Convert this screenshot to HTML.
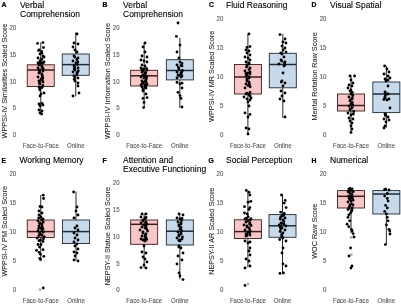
<!DOCTYPE html>
<html><head><meta charset="utf-8"><style>
html,body{margin:0;padding:0;background:#fff;overflow:hidden;}
svg{display:block;filter:blur(0.5px);}
text{font-family:"Liberation Sans",sans-serif;}
.let{font-size:6.8px;font-weight:bold;fill:#000;stroke:#000;stroke-width:0.2px;}
.tit{font-size:8.5px;fill:#000;stroke:#000;stroke-width:0.1px;}
.tick{font-size:6.9px;fill:#555;stroke:#555;stroke-width:0.1px;}
.ylab{font-size:7.25px;fill:#1a1a1a;stroke:#1a1a1a;stroke-width:0.05px;}
</style></head><body>
<svg width="401" height="304" viewBox="0 0 401 304">
<rect width="401" height="304" fill="#fff"/>
<g fill="#000">
<text x="1.5" y="6.90" class="let">A</text>
<text x="20" y="7.60" class="tit">Verbal</text>
<text x="20" y="16.50" class="tit">Comprehension</text>
<text transform="translate(16.15,137.00) scale(0.88,1)" class="tick" text-anchor="end">0</text>
<text transform="translate(16.15,110.25) scale(0.88,1)" class="tick" text-anchor="end">5</text>
<text transform="translate(16.15,83.50) scale(0.88,1)" class="tick" text-anchor="end">10</text>
<text transform="translate(16.15,56.75) scale(0.88,1)" class="tick" text-anchor="end">15</text>
<text transform="translate(16.15,30.00) scale(0.88,1)" class="tick" text-anchor="end">20</text>
<text transform="translate(6.75,81.05) rotate(-90)" class="ylab" text-anchor="middle">WPPSI-IV Similarities Scaled Score</text>
<text transform="translate(40.75,147.70) scale(0.88,1)" class="tick" text-anchor="middle">Face-to-Face</text>
<text transform="translate(75.75,147.70) scale(0.88,1)" class="tick" text-anchor="middle">Online</text>
<line x1="40.75" x2="40.75" y1="64.80" y2="42.50" stroke="#000" stroke-width="0.85"/>
<line x1="40.75" x2="40.75" y1="86.50" y2="113.50" stroke="#000" stroke-width="0.85"/>
<rect x="27.25" y="64.80" width="27.0" height="21.70" fill="#f8c6c6" stroke="#3a1e1e" stroke-width="0.9"/>
<line x1="27.25" x2="54.25" y1="70.00" y2="70.00" stroke="#3a1e1e" stroke-width="1.5"/>
<line x1="75.75" x2="75.75" y1="54.00" y2="32.50" stroke="#000" stroke-width="0.85"/>
<line x1="75.75" x2="75.75" y1="75.30" y2="96.50" stroke="#000" stroke-width="0.85"/>
<rect x="62.25" y="54.00" width="27.0" height="21.30" fill="#c7daec" stroke="#1f2a33" stroke-width="0.9"/>
<line x1="62.25" x2="89.25" y1="64.60" y2="64.60" stroke="#1f2a33" stroke-width="1.5"/>
<circle cx="43.00" cy="42.60" r="1.4"/>
<circle cx="37.60" cy="43.40" r="1.4"/>
<circle cx="43.50" cy="47.50" r="1.4"/>
<circle cx="39.00" cy="50.00" r="1.4"/>
<circle cx="38.60" cy="50.60" r="1.4"/>
<circle cx="41.60" cy="51.40" r="1.4"/>
<circle cx="42.00" cy="53.00" r="1.4"/>
<circle cx="40.00" cy="54.00" r="1.4"/>
<circle cx="43.00" cy="56.00" r="1.4"/>
<circle cx="44.00" cy="57.00" r="1.4"/>
<circle cx="38.00" cy="58.00" r="1.4"/>
<circle cx="42.00" cy="59.00" r="1.4"/>
<circle cx="41.00" cy="60.00" r="1.4"/>
<circle cx="40.00" cy="61.00" r="1.4"/>
<circle cx="44.00" cy="62.00" r="1.4"/>
<circle cx="38.00" cy="63.00" r="1.4"/>
<circle cx="43.00" cy="63.00" r="1.4"/>
<circle cx="39.00" cy="65.00" r="1.4"/>
<circle cx="42.00" cy="67.00" r="1.4"/>
<circle cx="38.00" cy="68.00" r="1.4"/>
<circle cx="40.00" cy="70.00" r="1.4"/>
<circle cx="43.00" cy="71.00" r="1.4"/>
<circle cx="39.00" cy="73.00" r="1.4"/>
<circle cx="42.00" cy="75.00" r="1.4"/>
<circle cx="38.00" cy="77.00" r="1.4"/>
<circle cx="41.00" cy="79.00" r="1.4"/>
<circle cx="39.00" cy="81.00" r="1.4"/>
<circle cx="43.00" cy="82.00" r="1.4"/>
<circle cx="40.00" cy="84.00" r="1.4"/>
<circle cx="39.00" cy="87.00" r="1.4"/>
<circle cx="42.00" cy="87.40" r="1.4"/>
<circle cx="40.00" cy="90.00" r="1.4"/>
<circle cx="44.00" cy="93.00" r="1.4"/>
<circle cx="41.00" cy="94.00" r="1.4"/>
<circle cx="40.00" cy="96.00" r="1.4"/>
<circle cx="42.00" cy="103.40" r="1.4"/>
<circle cx="39.00" cy="104.00" r="1.4"/>
<circle cx="43.00" cy="105.00" r="1.4"/>
<circle cx="40.00" cy="106.00" r="1.4"/>
<circle cx="39.00" cy="110.00" r="1.4"/>
<circle cx="42.00" cy="111.00" r="1.4"/>
<circle cx="40.00" cy="113.00" r="1.4"/>
<circle cx="41.60" cy="114.00" r="1.4"/>
<circle cx="39.70" cy="62.50" r="1.4"/>
<circle cx="41.80" cy="63.00" r="1.4"/>
<circle cx="39.70" cy="64.00" r="1.4"/>
<circle cx="41.80" cy="66.00" r="1.4"/>
<circle cx="42.30" cy="67.50" r="1.4"/>
<circle cx="43.30" cy="69.00" r="1.4"/>
<circle cx="39.20" cy="70.50" r="1.4"/>
<circle cx="39.70" cy="72.00" r="1.4"/>
<circle cx="41.80" cy="74.00" r="1.4"/>
<circle cx="42.30" cy="76.00" r="1.4"/>
<circle cx="42.80" cy="78.00" r="1.4"/>
<circle cx="42.30" cy="80.00" r="1.4"/>
<circle cx="39.70" cy="81.50" r="1.4"/>
<circle cx="39.20" cy="83.00" r="1.4"/>
<circle cx="42.80" cy="85.50" r="1.4"/>
<circle cx="41.80" cy="87.20" r="1.4"/>
<circle cx="39.70" cy="88.70" r="1.4"/>
<circle cx="77.00" cy="34.00" r="1.4"/>
<circle cx="74.00" cy="43.00" r="1.4"/>
<circle cx="78.00" cy="44.00" r="1.4"/>
<circle cx="73.00" cy="47.00" r="1.4"/>
<circle cx="75.00" cy="50.00" r="1.4"/>
<circle cx="77.00" cy="52.00" r="1.4"/>
<circle cx="74.00" cy="56.00" r="1.4"/>
<circle cx="78.00" cy="58.00" r="1.4"/>
<circle cx="73.00" cy="61.00" r="1.4"/>
<circle cx="76.00" cy="63.00" r="1.4"/>
<circle cx="74.00" cy="66.00" r="1.4"/>
<circle cx="78.00" cy="68.00" r="1.4"/>
<circle cx="75.00" cy="70.00" r="1.4"/>
<circle cx="73.00" cy="72.00" r="1.4"/>
<circle cx="77.00" cy="73.00" r="1.4"/>
<circle cx="74.00" cy="76.00" r="1.4"/>
<circle cx="78.00" cy="78.00" r="1.4"/>
<circle cx="75.00" cy="81.00" r="1.4"/>
<circle cx="78.00" cy="83.00" r="1.4"/>
<circle cx="78.00" cy="86.00" r="1.4"/>
<circle cx="79.00" cy="93.00" r="1.4"/>
<circle cx="73.00" cy="96.00" r="1.4"/>
<circle cx="74.70" cy="57.00" r="1.4"/>
<circle cx="76.80" cy="59.50" r="1.4"/>
<circle cx="77.80" cy="62.00" r="1.4"/>
<circle cx="77.30" cy="64.50" r="1.4"/>
<circle cx="74.70" cy="67.00" r="1.4"/>
<circle cx="74.20" cy="69.00" r="1.4"/>
<circle cx="78.30" cy="71.00" r="1.4"/>
<circle cx="77.30" cy="72.50" r="1.4"/>
<circle cx="76.80" cy="74.50" r="1.4"/>
<circle cx="74.70" cy="77.00" r="1.4"/>
<circle cx="74.20" cy="79.50" r="1.4"/>
<text x="102.5" y="6.90" class="let">B</text>
<text x="123" y="7.60" class="tit">Verbal</text>
<text x="123" y="16.50" class="tit">Comprehension</text>
<text transform="translate(119.55,137.00) scale(0.88,1)" class="tick" text-anchor="end">0</text>
<text transform="translate(119.55,110.25) scale(0.88,1)" class="tick" text-anchor="end">5</text>
<text transform="translate(119.55,83.50) scale(0.88,1)" class="tick" text-anchor="end">10</text>
<text transform="translate(119.55,56.75) scale(0.88,1)" class="tick" text-anchor="end">15</text>
<text transform="translate(119.55,30.00) scale(0.88,1)" class="tick" text-anchor="end">20</text>
<text transform="translate(110.15,81.05) rotate(-90)" class="ylab" text-anchor="middle">WPPSI-IV Information Scaled Score</text>
<text transform="translate(144.15,147.70) scale(0.88,1)" class="tick" text-anchor="middle">Face-to-Face</text>
<text transform="translate(179.85,147.70) scale(0.88,1)" class="tick" text-anchor="middle">Online</text>
<line x1="144.15" x2="144.15" y1="70.30" y2="43.00" stroke="#000" stroke-width="0.85"/>
<line x1="144.15" x2="144.15" y1="86.00" y2="108.00" stroke="#000" stroke-width="0.85"/>
<rect x="130.65" y="70.30" width="27.0" height="15.70" fill="#f8c6c6" stroke="#3a1e1e" stroke-width="0.9"/>
<line x1="130.65" x2="157.65" y1="75.80" y2="75.80" stroke="#3a1e1e" stroke-width="1.5"/>
<line x1="179.85" x2="179.85" y1="59.70" y2="38.00" stroke="#000" stroke-width="0.85"/>
<line x1="179.85" x2="179.85" y1="79.90" y2="108.00" stroke="#000" stroke-width="0.85"/>
<rect x="166.35" y="59.70" width="27.0" height="20.20" fill="#c7daec" stroke="#1f2a33" stroke-width="0.9"/>
<line x1="166.35" x2="193.35" y1="70.50" y2="70.50" stroke="#1f2a33" stroke-width="1.5"/>
<circle cx="145.00" cy="43.00" r="1.4"/>
<circle cx="143.00" cy="47.00" r="1.4"/>
<circle cx="145.00" cy="52.00" r="1.4"/>
<circle cx="142.00" cy="56.00" r="1.4"/>
<circle cx="147.00" cy="57.00" r="1.4"/>
<circle cx="141.00" cy="60.00" r="1.4"/>
<circle cx="144.00" cy="61.00" r="1.4"/>
<circle cx="147.00" cy="62.00" r="1.4"/>
<circle cx="142.00" cy="65.00" r="1.4"/>
<circle cx="145.00" cy="66.00" r="1.4"/>
<circle cx="141.00" cy="68.00" r="1.4"/>
<circle cx="144.00" cy="69.00" r="1.4"/>
<circle cx="147.00" cy="70.00" r="1.4"/>
<circle cx="142.00" cy="72.00" r="1.4"/>
<circle cx="145.00" cy="73.00" r="1.4"/>
<circle cx="143.00" cy="75.00" r="1.4"/>
<circle cx="146.00" cy="76.00" r="1.4"/>
<circle cx="141.00" cy="77.00" r="1.4"/>
<circle cx="144.00" cy="78.00" r="1.4"/>
<circle cx="142.00" cy="81.00" r="1.4"/>
<circle cx="146.00" cy="81.60" r="1.4"/>
<circle cx="143.00" cy="83.00" r="1.4"/>
<circle cx="147.00" cy="84.00" r="1.4"/>
<circle cx="141.00" cy="85.00" r="1.4"/>
<circle cx="145.00" cy="86.00" r="1.4"/>
<circle cx="142.00" cy="87.00" r="1.4"/>
<circle cx="146.00" cy="88.00" r="1.4"/>
<circle cx="143.00" cy="91.00" r="1.4"/>
<circle cx="146.00" cy="94.00" r="1.4"/>
<circle cx="147.00" cy="97.60" r="1.4"/>
<circle cx="143.00" cy="98.40" r="1.4"/>
<circle cx="144.00" cy="102.40" r="1.4"/>
<circle cx="143.60" cy="107.60" r="1.4"/>
<circle cx="146.60" cy="68.50" r="1.4"/>
<circle cx="142.00" cy="69.50" r="1.4"/>
<circle cx="143.00" cy="71.00" r="1.4"/>
<circle cx="145.60" cy="72.50" r="1.4"/>
<circle cx="145.10" cy="74.00" r="1.4"/>
<circle cx="143.00" cy="75.50" r="1.4"/>
<circle cx="145.60" cy="76.50" r="1.4"/>
<circle cx="146.60" cy="77.50" r="1.4"/>
<circle cx="146.10" cy="79.50" r="1.4"/>
<circle cx="145.10" cy="81.30" r="1.4"/>
<circle cx="143.00" cy="82.30" r="1.4"/>
<circle cx="142.50" cy="83.50" r="1.4"/>
<circle cx="145.10" cy="84.50" r="1.4"/>
<circle cx="146.10" cy="85.50" r="1.4"/>
<circle cx="145.60" cy="86.50" r="1.4"/>
<circle cx="145.10" cy="87.50" r="1.4"/>
<circle cx="143.00" cy="89.50" r="1.4"/>
<circle cx="178.00" cy="23.00" r="1.4"/>
<circle cx="176.40" cy="36.40" r="1.4"/>
<circle cx="180.00" cy="45.00" r="1.4"/>
<circle cx="177.00" cy="52.00" r="1.4"/>
<circle cx="179.00" cy="58.00" r="1.4"/>
<circle cx="180.00" cy="62.00" r="1.4"/>
<circle cx="177.00" cy="65.00" r="1.4"/>
<circle cx="182.00" cy="66.00" r="1.4"/>
<circle cx="179.00" cy="69.00" r="1.4"/>
<circle cx="177.00" cy="72.00" r="1.4"/>
<circle cx="181.00" cy="73.00" r="1.4"/>
<circle cx="178.00" cy="75.00" r="1.4"/>
<circle cx="182.00" cy="76.00" r="1.4"/>
<circle cx="177.00" cy="78.00" r="1.4"/>
<circle cx="177.00" cy="82.40" r="1.4"/>
<circle cx="180.00" cy="84.00" r="1.4"/>
<circle cx="182.00" cy="88.00" r="1.4"/>
<circle cx="178.00" cy="92.40" r="1.4"/>
<circle cx="180.00" cy="95.60" r="1.4"/>
<circle cx="181.00" cy="98.40" r="1.4"/>
<circle cx="182.00" cy="107.00" r="1.4"/>
<circle cx="182.00" cy="63.50" r="1.4"/>
<circle cx="181.00" cy="65.50" r="1.4"/>
<circle cx="178.40" cy="67.50" r="1.4"/>
<circle cx="182.50" cy="70.50" r="1.4"/>
<circle cx="181.50" cy="72.50" r="1.4"/>
<circle cx="181.00" cy="74.00" r="1.4"/>
<circle cx="178.90" cy="75.50" r="1.4"/>
<circle cx="181.00" cy="77.00" r="1.4"/>
<circle cx="182.00" cy="83.20" r="1.4"/>
<text x="209.0" y="6.90" class="let">C</text>
<text x="226" y="7.60" class="tit">Fluid Reasoning</text>
<text transform="translate(223.30,136.85) scale(0.88,1)" class="tick" text-anchor="end">0</text>
<text transform="translate(223.30,107.83) scale(0.88,1)" class="tick" text-anchor="end">5</text>
<text transform="translate(223.30,78.80) scale(0.88,1)" class="tick" text-anchor="end">10</text>
<text transform="translate(223.30,49.77) scale(0.88,1)" class="tick" text-anchor="end">15</text>
<text transform="translate(223.30,20.75) scale(0.88,1)" class="tick" text-anchor="end">20</text>
<text transform="translate(213.90,76.35) rotate(-90)" class="ylab" text-anchor="middle">WPPSI-IV MR Scaled Score</text>
<text transform="translate(247.90,147.70) scale(0.88,1)" class="tick" text-anchor="middle">Face-to-Face</text>
<text transform="translate(282.80,147.70) scale(0.88,1)" class="tick" text-anchor="middle">Online</text>
<line x1="247.90" x2="247.90" y1="64.50" y2="33.80" stroke="#000" stroke-width="0.85"/>
<line x1="247.90" x2="247.90" y1="94.00" y2="134.60" stroke="#000" stroke-width="0.85"/>
<rect x="234.40" y="64.50" width="27.0" height="29.50" fill="#f8c6c6" stroke="#3a1e1e" stroke-width="0.9"/>
<line x1="234.40" x2="261.40" y1="77.00" y2="77.00" stroke="#3a1e1e" stroke-width="1.5"/>
<line x1="282.80" x2="282.80" y1="53.30" y2="33.80" stroke="#000" stroke-width="0.85"/>
<line x1="282.80" x2="282.80" y1="87.80" y2="118.00" stroke="#000" stroke-width="0.85"/>
<rect x="269.30" y="53.30" width="27.0" height="34.50" fill="#c7daec" stroke="#1f2a33" stroke-width="0.9"/>
<line x1="269.30" x2="296.30" y1="64.50" y2="64.50" stroke="#1f2a33" stroke-width="1.5"/>
<circle cx="249.00" cy="34.00" r="1.4"/>
<circle cx="250.00" cy="46.60" r="1.4"/>
<circle cx="247.00" cy="47.40" r="1.4"/>
<circle cx="246.00" cy="50.00" r="1.4"/>
<circle cx="249.00" cy="51.00" r="1.4"/>
<circle cx="247.00" cy="53.00" r="1.4"/>
<circle cx="250.00" cy="55.00" r="1.4"/>
<circle cx="245.00" cy="57.00" r="1.4"/>
<circle cx="248.00" cy="58.00" r="1.4"/>
<circle cx="250.00" cy="60.00" r="1.4"/>
<circle cx="246.00" cy="62.00" r="1.4"/>
<circle cx="249.00" cy="64.00" r="1.4"/>
<circle cx="247.00" cy="66.00" r="1.4"/>
<circle cx="250.00" cy="68.00" r="1.4"/>
<circle cx="245.00" cy="71.00" r="1.4"/>
<circle cx="248.00" cy="73.00" r="1.4"/>
<circle cx="250.00" cy="74.00" r="1.4"/>
<circle cx="246.00" cy="76.00" r="1.4"/>
<circle cx="249.00" cy="78.00" r="1.4"/>
<circle cx="247.00" cy="80.00" r="1.4"/>
<circle cx="249.00" cy="82.00" r="1.4"/>
<circle cx="246.00" cy="84.00" r="1.4"/>
<circle cx="248.00" cy="85.60" r="1.4"/>
<circle cx="245.00" cy="88.00" r="1.4"/>
<circle cx="250.00" cy="92.40" r="1.4"/>
<circle cx="246.00" cy="94.00" r="1.4"/>
<circle cx="249.00" cy="95.00" r="1.4"/>
<circle cx="244.00" cy="97.00" r="1.4"/>
<circle cx="247.00" cy="99.00" r="1.4"/>
<circle cx="250.00" cy="100.00" r="1.4"/>
<circle cx="248.00" cy="102.00" r="1.4"/>
<circle cx="249.00" cy="106.00" r="1.4"/>
<circle cx="245.00" cy="113.00" r="1.4"/>
<circle cx="250.00" cy="114.40" r="1.4"/>
<circle cx="248.00" cy="117.00" r="1.4"/>
<circle cx="246.00" cy="128.00" r="1.4"/>
<circle cx="249.00" cy="129.00" r="1.4"/>
<circle cx="248.00" cy="134.00" r="1.4"/>
<circle cx="249.10" cy="63.00" r="1.4"/>
<circle cx="247.00" cy="65.00" r="1.4"/>
<circle cx="246.50" cy="67.00" r="1.4"/>
<circle cx="249.10" cy="69.50" r="1.4"/>
<circle cx="250.10" cy="72.00" r="1.4"/>
<circle cx="246.00" cy="73.50" r="1.4"/>
<circle cx="247.00" cy="75.00" r="1.4"/>
<circle cx="249.10" cy="77.00" r="1.4"/>
<circle cx="247.00" cy="79.00" r="1.4"/>
<circle cx="247.00" cy="81.00" r="1.4"/>
<circle cx="249.10" cy="83.00" r="1.4"/>
<circle cx="249.60" cy="84.80" r="1.4"/>
<circle cx="250.10" cy="86.80" r="1.4"/>
<circle cx="247.00" cy="93.20" r="1.4"/>
<circle cx="249.10" cy="94.50" r="1.4"/>
<circle cx="250.10" cy="96.00" r="1.4"/>
<circle cx="251.10" cy="98.00" r="1.4"/>
<circle cx="280.00" cy="34.60" r="1.4"/>
<circle cx="285.00" cy="39.00" r="1.4"/>
<circle cx="283.00" cy="42.00" r="1.4"/>
<circle cx="286.00" cy="43.00" r="1.4"/>
<circle cx="282.00" cy="46.00" r="1.4"/>
<circle cx="285.00" cy="48.00" r="1.4"/>
<circle cx="283.00" cy="50.00" r="1.4"/>
<circle cx="286.00" cy="52.00" r="1.4"/>
<circle cx="282.00" cy="54.00" r="1.4"/>
<circle cx="284.00" cy="57.00" r="1.4"/>
<circle cx="281.00" cy="60.00" r="1.4"/>
<circle cx="285.00" cy="62.00" r="1.4"/>
<circle cx="279.00" cy="64.00" r="1.4"/>
<circle cx="284.00" cy="66.00" r="1.4"/>
<circle cx="283.00" cy="73.00" r="1.4"/>
<circle cx="282.00" cy="81.00" r="1.4"/>
<circle cx="285.00" cy="83.00" r="1.4"/>
<circle cx="283.00" cy="86.00" r="1.4"/>
<circle cx="281.00" cy="91.00" r="1.4"/>
<circle cx="285.00" cy="93.00" r="1.4"/>
<circle cx="282.00" cy="96.00" r="1.4"/>
<circle cx="280.00" cy="99.00" r="1.4"/>
<circle cx="284.00" cy="101.00" r="1.4"/>
<circle cx="285.00" cy="117.00" r="1.4"/>
<circle cx="280.80" cy="53.00" r="1.4"/>
<circle cx="281.80" cy="61.00" r="1.4"/>
<circle cx="284.40" cy="63.00" r="1.4"/>
<circle cx="284.90" cy="65.00" r="1.4"/>
<circle cx="281.30" cy="82.00" r="1.4"/>
<text x="311.5" y="6.90" class="let">D</text>
<text x="330" y="7.60" class="tit">Visual Spatial</text>
<text transform="translate(326.40,136.85) scale(0.88,1)" class="tick" text-anchor="end">0</text>
<text transform="translate(326.40,107.83) scale(0.88,1)" class="tick" text-anchor="end">5</text>
<text transform="translate(326.40,78.80) scale(0.88,1)" class="tick" text-anchor="end">10</text>
<text transform="translate(326.40,49.77) scale(0.88,1)" class="tick" text-anchor="end">15</text>
<text transform="translate(326.40,20.75) scale(0.88,1)" class="tick" text-anchor="end">20</text>
<text transform="translate(317.00,76.35) rotate(-90)" class="ylab" text-anchor="middle">Mental Rotation Raw Score</text>
<text transform="translate(351.00,147.70) scale(0.88,1)" class="tick" text-anchor="middle">Face-to-Face</text>
<text transform="translate(386.35,147.70) scale(0.88,1)" class="tick" text-anchor="middle">Online</text>
<line x1="351.00" x2="351.00" y1="94.00" y2="75.60" stroke="#000" stroke-width="0.85"/>
<line x1="351.00" x2="351.00" y1="111.00" y2="132.60" stroke="#000" stroke-width="0.85"/>
<rect x="337.50" y="94.00" width="27.0" height="17.00" fill="#f8c6c6" stroke="#3a1e1e" stroke-width="0.9"/>
<line x1="337.50" x2="364.50" y1="105.50" y2="105.50" stroke="#3a1e1e" stroke-width="1.5"/>
<line x1="386.35" x2="386.35" y1="82.00" y2="66.00" stroke="#000" stroke-width="0.85"/>
<line x1="386.35" x2="386.35" y1="112.60" y2="127.60" stroke="#000" stroke-width="0.85"/>
<rect x="372.85" y="82.00" width="27.0" height="30.60" fill="#c7daec" stroke="#1f2a33" stroke-width="0.9"/>
<line x1="372.85" x2="399.85" y1="94.00" y2="94.00" stroke="#1f2a33" stroke-width="1.5"/>
<circle cx="350.00" cy="76.00" r="1.4"/>
<circle cx="354.60" cy="76.00" r="1.4"/>
<circle cx="351.00" cy="80.00" r="1.4"/>
<circle cx="353.00" cy="83.00" r="1.4"/>
<circle cx="349.00" cy="85.00" r="1.4"/>
<circle cx="352.00" cy="86.00" r="1.4"/>
<circle cx="348.00" cy="88.00" r="1.4"/>
<circle cx="351.00" cy="90.00" r="1.4"/>
<circle cx="350.00" cy="91.00" r="1.4"/>
<circle cx="351.00" cy="94.00" r="1.4"/>
<circle cx="349.00" cy="97.00" r="1.4"/>
<circle cx="352.00" cy="99.00" r="1.4"/>
<circle cx="350.00" cy="101.00" r="1.4"/>
<circle cx="351.00" cy="104.00" r="1.4"/>
<circle cx="349.00" cy="106.00" r="1.4"/>
<circle cx="352.00" cy="108.00" r="1.4"/>
<circle cx="350.00" cy="110.00" r="1.4"/>
<circle cx="348.00" cy="113.00" r="1.4"/>
<circle cx="351.00" cy="115.00" r="1.4"/>
<circle cx="349.00" cy="118.00" r="1.4"/>
<circle cx="353.00" cy="119.00" r="1.4"/>
<circle cx="350.00" cy="121.00" r="1.4"/>
<circle cx="352.00" cy="123.00" r="1.4"/>
<circle cx="351.00" cy="126.00" r="1.4"/>
<circle cx="352.00" cy="129.00" r="1.4"/>
<circle cx="351.00" cy="132.40" r="1.4"/>
<circle cx="352.30" cy="92.50" r="1.4"/>
<circle cx="352.80" cy="95.50" r="1.4"/>
<circle cx="352.30" cy="98.00" r="1.4"/>
<circle cx="350.20" cy="100.00" r="1.4"/>
<circle cx="352.30" cy="102.50" r="1.4"/>
<circle cx="352.80" cy="105.00" r="1.4"/>
<circle cx="352.30" cy="107.00" r="1.4"/>
<circle cx="350.20" cy="109.00" r="1.4"/>
<circle cx="353.80" cy="111.50" r="1.4"/>
<circle cx="353.30" cy="114.00" r="1.4"/>
<circle cx="384.60" cy="66.00" r="1.4"/>
<circle cx="387.00" cy="69.00" r="1.4"/>
<circle cx="389.00" cy="72.00" r="1.4"/>
<circle cx="384.00" cy="74.00" r="1.4"/>
<circle cx="388.00" cy="76.00" r="1.4"/>
<circle cx="390.00" cy="78.00" r="1.4"/>
<circle cx="385.00" cy="79.00" r="1.4"/>
<circle cx="386.00" cy="81.00" r="1.4"/>
<circle cx="388.00" cy="86.00" r="1.4"/>
<circle cx="385.00" cy="92.00" r="1.4"/>
<circle cx="388.00" cy="94.00" r="1.4"/>
<circle cx="385.00" cy="97.00" r="1.4"/>
<circle cx="389.00" cy="99.00" r="1.4"/>
<circle cx="387.00" cy="100.00" r="1.4"/>
<circle cx="390.00" cy="108.00" r="1.4"/>
<circle cx="385.00" cy="114.00" r="1.4"/>
<circle cx="388.00" cy="117.00" r="1.4"/>
<circle cx="384.00" cy="119.00" r="1.4"/>
<circle cx="389.00" cy="120.00" r="1.4"/>
<circle cx="386.00" cy="122.00" r="1.4"/>
<circle cx="385.00" cy="126.00" r="1.4"/>
<circle cx="384.00" cy="128.00" r="1.4"/>
<circle cx="388.00" cy="80.00" r="1.4"/>
<circle cx="385.40" cy="93.00" r="1.4"/>
<circle cx="385.40" cy="95.50" r="1.4"/>
<circle cx="384.90" cy="98.00" r="1.4"/>
<circle cx="383.90" cy="99.50" r="1.4"/>
<circle cx="385.40" cy="115.50" r="1.4"/>
<text x="1.5" y="162.70" class="let">E</text>
<text x="19.5" y="162.60" class="tit">Working Memory</text>
<text transform="translate(16.15,291.75) scale(0.88,1)" class="tick" text-anchor="end">0</text>
<text transform="translate(16.15,262.73) scale(0.88,1)" class="tick" text-anchor="end">5</text>
<text transform="translate(16.15,233.70) scale(0.88,1)" class="tick" text-anchor="end">10</text>
<text transform="translate(16.15,204.67) scale(0.88,1)" class="tick" text-anchor="end">15</text>
<text transform="translate(16.15,175.65) scale(0.88,1)" class="tick" text-anchor="end">20</text>
<text transform="translate(6.75,231.25) rotate(-90)" class="ylab" text-anchor="middle">WPPSI-IV PM Scaled Score</text>
<text transform="translate(40.75,302.60) scale(0.88,1)" class="tick" text-anchor="middle">Face-to-Face</text>
<text transform="translate(76.00,302.60) scale(0.88,1)" class="tick" text-anchor="middle">Online</text>
<line x1="40.75" x2="40.75" y1="220.00" y2="195.00" stroke="#000" stroke-width="0.85"/>
<line x1="40.75" x2="40.75" y1="237.50" y2="259.30" stroke="#000" stroke-width="0.85"/>
<rect x="27.25" y="220.00" width="27.0" height="17.50" fill="#f8c6c6" stroke="#3a1e1e" stroke-width="0.9"/>
<line x1="27.25" x2="54.25" y1="231.60" y2="231.60" stroke="#3a1e1e" stroke-width="1.5"/>
<line x1="76.00" x2="76.00" y1="220.00" y2="191.50" stroke="#000" stroke-width="0.85"/>
<line x1="76.00" x2="76.00" y1="243.50" y2="260.50" stroke="#000" stroke-width="0.85"/>
<rect x="62.50" y="220.00" width="27.0" height="23.50" fill="#c7daec" stroke="#1f2a33" stroke-width="0.9"/>
<line x1="62.50" x2="89.50" y1="231.60" y2="231.60" stroke="#1f2a33" stroke-width="1.5"/>
<circle cx="40.00" cy="289.60" r="1.4" fill="#b0b0b0"/>
<circle cx="43.20" cy="195.20" r="1.4"/>
<circle cx="43.60" cy="198.50" r="1.4"/>
<circle cx="40.00" cy="206.50" r="1.4"/>
<circle cx="42.00" cy="207.00" r="1.4"/>
<circle cx="39.00" cy="211.00" r="1.4"/>
<circle cx="42.00" cy="213.00" r="1.4"/>
<circle cx="39.00" cy="215.00" r="1.4"/>
<circle cx="41.00" cy="217.00" r="1.4"/>
<circle cx="43.00" cy="219.00" r="1.4"/>
<circle cx="38.00" cy="221.00" r="1.4"/>
<circle cx="40.00" cy="223.00" r="1.4"/>
<circle cx="42.00" cy="224.00" r="1.4"/>
<circle cx="39.00" cy="226.00" r="1.4"/>
<circle cx="41.00" cy="228.00" r="1.4"/>
<circle cx="43.00" cy="229.00" r="1.4"/>
<circle cx="38.00" cy="231.00" r="1.4"/>
<circle cx="40.00" cy="233.00" r="1.4"/>
<circle cx="42.00" cy="235.00" r="1.4"/>
<circle cx="39.00" cy="235.50" r="1.4"/>
<circle cx="37.20" cy="238.00" r="1.4"/>
<circle cx="40.50" cy="240.00" r="1.4"/>
<circle cx="43.00" cy="241.50" r="1.4"/>
<circle cx="38.00" cy="244.50" r="1.4"/>
<circle cx="41.00" cy="244.50" r="1.4"/>
<circle cx="39.50" cy="247.00" r="1.4"/>
<circle cx="43.10" cy="249.70" r="1.4"/>
<circle cx="36.60" cy="250.40" r="1.4"/>
<circle cx="39.20" cy="252.40" r="1.4"/>
<circle cx="40.50" cy="254.30" r="1.4"/>
<circle cx="43.80" cy="256.30" r="1.4"/>
<circle cx="39.80" cy="258.30" r="1.4"/>
<circle cx="40.50" cy="259.60" r="1.4"/>
<circle cx="43.30" cy="288.00" r="1.4"/>
<circle cx="38.70" cy="218.00" r="1.4"/>
<circle cx="41.80" cy="220.00" r="1.4"/>
<circle cx="43.30" cy="222.00" r="1.4"/>
<circle cx="39.70" cy="223.50" r="1.4"/>
<circle cx="41.80" cy="225.00" r="1.4"/>
<circle cx="42.30" cy="227.00" r="1.4"/>
<circle cx="38.70" cy="228.50" r="1.4"/>
<circle cx="41.80" cy="230.00" r="1.4"/>
<circle cx="43.30" cy="232.00" r="1.4"/>
<circle cx="39.70" cy="234.00" r="1.4"/>
<circle cx="41.80" cy="235.25" r="1.4"/>
<circle cx="44.20" cy="236.75" r="1.4"/>
<circle cx="43.45" cy="239.00" r="1.4"/>
<circle cx="38.95" cy="240.75" r="1.4"/>
<circle cx="73.60" cy="192.00" r="1.4"/>
<circle cx="77.00" cy="207.00" r="1.4"/>
<circle cx="76.00" cy="211.00" r="1.4"/>
<circle cx="78.00" cy="215.00" r="1.4"/>
<circle cx="74.00" cy="218.00" r="1.4"/>
<circle cx="77.00" cy="226.00" r="1.4"/>
<circle cx="75.00" cy="228.00" r="1.4"/>
<circle cx="78.00" cy="230.00" r="1.4"/>
<circle cx="74.00" cy="233.00" r="1.4"/>
<circle cx="77.00" cy="235.00" r="1.4"/>
<circle cx="75.00" cy="238.00" r="1.4"/>
<circle cx="78.00" cy="240.00" r="1.4"/>
<circle cx="74.00" cy="242.00" r="1.4"/>
<circle cx="77.00" cy="244.00" r="1.4"/>
<circle cx="75.00" cy="246.00" r="1.4"/>
<circle cx="78.00" cy="249.00" r="1.4"/>
<circle cx="74.00" cy="252.00" r="1.4"/>
<circle cx="77.00" cy="253.00" r="1.4"/>
<circle cx="75.00" cy="256.00" r="1.4"/>
<circle cx="74.00" cy="260.00" r="1.4"/>
<circle cx="78.00" cy="261.00" r="1.4"/>
<text x="102.5" y="162.70" class="let">F</text>
<text x="123" y="162.60" class="tit">Attention and</text>
<text x="123" y="171.50" class="tit">Executive Functioning</text>
<text transform="translate(119.55,292.45) scale(0.88,1)" class="tick" text-anchor="end">0</text>
<text transform="translate(119.55,265.55) scale(0.88,1)" class="tick" text-anchor="end">5</text>
<text transform="translate(119.55,238.65) scale(0.88,1)" class="tick" text-anchor="end">10</text>
<text transform="translate(119.55,211.75) scale(0.88,1)" class="tick" text-anchor="end">15</text>
<text transform="translate(119.55,184.85) scale(0.88,1)" class="tick" text-anchor="end">20</text>
<text transform="translate(110.15,236.20) rotate(-90)" class="ylab" text-anchor="middle">NEPSY-II Statue Scaled Score</text>
<text transform="translate(144.15,302.60) scale(0.88,1)" class="tick" text-anchor="middle">Face-to-Face</text>
<text transform="translate(179.85,302.60) scale(0.88,1)" class="tick" text-anchor="middle">Online</text>
<line x1="144.15" x2="144.15" y1="220.00" y2="213.00" stroke="#000" stroke-width="0.85"/>
<line x1="144.15" x2="144.15" y1="244.30" y2="268.00" stroke="#000" stroke-width="0.85"/>
<rect x="130.65" y="220.00" width="27.0" height="24.30" fill="#f8c6c6" stroke="#3a1e1e" stroke-width="0.9"/>
<line x1="130.65" x2="157.65" y1="224.30" y2="224.30" stroke="#3a1e1e" stroke-width="1.5"/>
<line x1="179.85" x2="179.85" y1="220.00" y2="213.00" stroke="#000" stroke-width="0.85"/>
<line x1="179.85" x2="179.85" y1="245.00" y2="279.30" stroke="#000" stroke-width="0.85"/>
<rect x="166.35" y="220.00" width="27.0" height="25.00" fill="#c7daec" stroke="#1f2a33" stroke-width="0.9"/>
<line x1="166.35" x2="193.35" y1="231.20" y2="231.20" stroke="#1f2a33" stroke-width="1.5"/>
<circle cx="142.00" cy="214.00" r="1.4"/>
<circle cx="146.00" cy="214.00" r="1.4"/>
<circle cx="141.00" cy="217.00" r="1.4"/>
<circle cx="145.00" cy="218.00" r="1.4"/>
<circle cx="143.00" cy="220.00" r="1.4"/>
<circle cx="146.00" cy="222.00" r="1.4"/>
<circle cx="141.00" cy="223.00" r="1.4"/>
<circle cx="144.00" cy="225.00" r="1.4"/>
<circle cx="142.00" cy="227.00" r="1.4"/>
<circle cx="145.00" cy="228.00" r="1.4"/>
<circle cx="140.00" cy="230.00" r="1.4"/>
<circle cx="143.00" cy="232.00" r="1.4"/>
<circle cx="146.00" cy="234.00" r="1.4"/>
<circle cx="142.00" cy="236.00" r="1.4"/>
<circle cx="145.00" cy="237.00" r="1.4"/>
<circle cx="141.00" cy="239.00" r="1.4"/>
<circle cx="144.00" cy="240.00" r="1.4"/>
<circle cx="143.00" cy="240.00" r="1.4"/>
<circle cx="145.00" cy="241.00" r="1.4"/>
<circle cx="144.00" cy="246.00" r="1.4"/>
<circle cx="142.00" cy="252.00" r="1.4"/>
<circle cx="146.00" cy="253.00" r="1.4"/>
<circle cx="143.00" cy="257.00" r="1.4"/>
<circle cx="145.00" cy="259.00" r="1.4"/>
<circle cx="147.00" cy="262.00" r="1.4"/>
<circle cx="144.00" cy="265.00" r="1.4"/>
<circle cx="141.00" cy="267.60" r="1.4"/>
<circle cx="146.00" cy="268.00" r="1.4"/>
<circle cx="146.10" cy="217.50" r="1.4"/>
<circle cx="145.10" cy="219.00" r="1.4"/>
<circle cx="143.00" cy="221.00" r="1.4"/>
<circle cx="145.60" cy="222.50" r="1.4"/>
<circle cx="146.60" cy="224.00" r="1.4"/>
<circle cx="146.10" cy="226.00" r="1.4"/>
<circle cx="145.60" cy="227.50" r="1.4"/>
<circle cx="146.60" cy="229.00" r="1.4"/>
<circle cx="147.60" cy="231.00" r="1.4"/>
<circle cx="143.00" cy="233.00" r="1.4"/>
<circle cx="145.10" cy="235.00" r="1.4"/>
<circle cx="145.60" cy="236.50" r="1.4"/>
<circle cx="146.10" cy="238.00" r="1.4"/>
<circle cx="146.60" cy="239.50" r="1.4"/>
<circle cx="145.60" cy="240.00" r="1.4"/>
<circle cx="145.10" cy="240.50" r="1.4"/>
<circle cx="179.00" cy="214.00" r="1.4"/>
<circle cx="183.00" cy="215.00" r="1.4"/>
<circle cx="177.00" cy="218.00" r="1.4"/>
<circle cx="180.00" cy="219.00" r="1.4"/>
<circle cx="178.00" cy="222.00" r="1.4"/>
<circle cx="181.00" cy="224.00" r="1.4"/>
<circle cx="179.00" cy="226.00" r="1.4"/>
<circle cx="180.00" cy="229.00" r="1.4"/>
<circle cx="178.00" cy="232.00" r="1.4"/>
<circle cx="181.00" cy="234.00" r="1.4"/>
<circle cx="179.00" cy="236.00" r="1.4"/>
<circle cx="177.00" cy="238.00" r="1.4"/>
<circle cx="180.00" cy="240.00" r="1.4"/>
<circle cx="180.00" cy="241.00" r="1.4"/>
<circle cx="179.00" cy="246.00" r="1.4"/>
<circle cx="181.00" cy="248.00" r="1.4"/>
<circle cx="183.00" cy="253.00" r="1.4"/>
<circle cx="178.00" cy="256.00" r="1.4"/>
<circle cx="182.00" cy="260.00" r="1.4"/>
<circle cx="177.00" cy="264.00" r="1.4"/>
<circle cx="179.00" cy="273.00" r="1.4"/>
<circle cx="180.00" cy="276.00" r="1.4"/>
<circle cx="183.00" cy="279.60" r="1.4"/>
<circle cx="182.00" cy="218.50" r="1.4"/>
<circle cx="181.50" cy="220.50" r="1.4"/>
<circle cx="181.00" cy="223.00" r="1.4"/>
<circle cx="178.90" cy="225.00" r="1.4"/>
<circle cx="181.00" cy="227.50" r="1.4"/>
<circle cx="181.50" cy="230.50" r="1.4"/>
<circle cx="181.00" cy="233.00" r="1.4"/>
<circle cx="178.90" cy="235.00" r="1.4"/>
<circle cx="182.50" cy="237.00" r="1.4"/>
<circle cx="182.00" cy="239.00" r="1.4"/>
<circle cx="178.90" cy="240.50" r="1.4"/>
<circle cx="178.90" cy="247.00" r="1.4"/>
<text x="208.5" y="162.70" class="let">G</text>
<text x="226" y="162.60" class="tit">Social Perception</text>
<text transform="translate(223.30,291.75) scale(0.88,1)" class="tick" text-anchor="end">0</text>
<text transform="translate(223.30,262.73) scale(0.88,1)" class="tick" text-anchor="end">5</text>
<text transform="translate(223.30,233.70) scale(0.88,1)" class="tick" text-anchor="end">10</text>
<text transform="translate(223.30,204.67) scale(0.88,1)" class="tick" text-anchor="end">15</text>
<text transform="translate(223.30,175.65) scale(0.88,1)" class="tick" text-anchor="end">20</text>
<text transform="translate(213.90,231.25) rotate(-90)" class="ylab" text-anchor="middle">NEPSY-II AR Scaled Score</text>
<text transform="translate(247.90,302.60) scale(0.88,1)" class="tick" text-anchor="middle">Face-to-Face</text>
<text transform="translate(282.50,302.60) scale(0.88,1)" class="tick" text-anchor="middle">Online</text>
<line x1="247.90" x2="247.90" y1="219.80" y2="190.80" stroke="#000" stroke-width="0.85"/>
<line x1="247.90" x2="247.90" y1="238.50" y2="267.50" stroke="#000" stroke-width="0.85"/>
<rect x="234.40" y="219.80" width="27.0" height="18.70" fill="#f8c6c6" stroke="#3a1e1e" stroke-width="0.9"/>
<line x1="234.40" x2="261.40" y1="231.60" y2="231.60" stroke="#3a1e1e" stroke-width="1.5"/>
<line x1="282.50" x2="282.50" y1="214.60" y2="195.00" stroke="#000" stroke-width="0.85"/>
<line x1="282.50" x2="282.50" y1="237.30" y2="273.50" stroke="#000" stroke-width="0.85"/>
<rect x="269.00" y="214.60" width="27.0" height="22.70" fill="#c7daec" stroke="#1f2a33" stroke-width="0.9"/>
<line x1="269.00" x2="296.00" y1="225.80" y2="225.80" stroke="#1f2a33" stroke-width="1.5"/>
<circle cx="248.00" cy="284.00" r="1.4" fill="#b0b0b0"/>
<circle cx="246.30" cy="190.40" r="1.4"/>
<circle cx="249.00" cy="192.20" r="1.4"/>
<circle cx="249.90" cy="195.00" r="1.4"/>
<circle cx="250.80" cy="201.30" r="1.4"/>
<circle cx="248.10" cy="202.20" r="1.4"/>
<circle cx="244.50" cy="206.70" r="1.4"/>
<circle cx="249.90" cy="207.60" r="1.4"/>
<circle cx="249.00" cy="209.40" r="1.4"/>
<circle cx="244.50" cy="213.00" r="1.4"/>
<circle cx="247.20" cy="213.90" r="1.4"/>
<circle cx="248.10" cy="216.60" r="1.4"/>
<circle cx="246.30" cy="218.50" r="1.4"/>
<circle cx="245.00" cy="219.00" r="1.4"/>
<circle cx="248.00" cy="221.00" r="1.4"/>
<circle cx="250.00" cy="223.00" r="1.4"/>
<circle cx="244.00" cy="225.00" r="1.4"/>
<circle cx="247.00" cy="226.00" r="1.4"/>
<circle cx="249.00" cy="228.00" r="1.4"/>
<circle cx="245.00" cy="230.00" r="1.4"/>
<circle cx="248.00" cy="232.00" r="1.4"/>
<circle cx="246.00" cy="234.00" r="1.4"/>
<circle cx="250.00" cy="235.00" r="1.4"/>
<circle cx="246.00" cy="236.00" r="1.4"/>
<circle cx="245.00" cy="241.00" r="1.4"/>
<circle cx="248.00" cy="243.00" r="1.4"/>
<circle cx="250.00" cy="248.00" r="1.4"/>
<circle cx="249.00" cy="251.00" r="1.4"/>
<circle cx="250.00" cy="255.00" r="1.4"/>
<circle cx="246.00" cy="259.00" r="1.4"/>
<circle cx="249.00" cy="261.00" r="1.4"/>
<circle cx="250.00" cy="266.00" r="1.4"/>
<circle cx="245.00" cy="268.00" r="1.4"/>
<circle cx="245.00" cy="285.40" r="1.4"/>
<circle cx="250.95" cy="218.75" r="1.4"/>
<circle cx="250.10" cy="220.00" r="1.4"/>
<circle cx="246.00" cy="222.00" r="1.4"/>
<circle cx="249.60" cy="224.00" r="1.4"/>
<circle cx="251.10" cy="225.50" r="1.4"/>
<circle cx="247.00" cy="227.00" r="1.4"/>
<circle cx="249.60" cy="229.00" r="1.4"/>
<circle cx="250.10" cy="231.00" r="1.4"/>
<circle cx="249.60" cy="233.00" r="1.4"/>
<circle cx="247.00" cy="234.50" r="1.4"/>
<circle cx="247.00" cy="235.50" r="1.4"/>
<circle cx="250.10" cy="242.00" r="1.4"/>
<circle cx="281.50" cy="195.00" r="1.4"/>
<circle cx="285.20" cy="200.40" r="1.4"/>
<circle cx="284.20" cy="203.10" r="1.4"/>
<circle cx="286.10" cy="207.60" r="1.4"/>
<circle cx="280.60" cy="212.10" r="1.4"/>
<circle cx="282.40" cy="214.80" r="1.4"/>
<circle cx="282.00" cy="216.00" r="1.4"/>
<circle cx="285.00" cy="218.00" r="1.4"/>
<circle cx="283.00" cy="220.00" r="1.4"/>
<circle cx="281.00" cy="223.00" r="1.4"/>
<circle cx="284.00" cy="224.00" r="1.4"/>
<circle cx="286.00" cy="226.00" r="1.4"/>
<circle cx="282.00" cy="228.00" r="1.4"/>
<circle cx="285.00" cy="230.00" r="1.4"/>
<circle cx="283.00" cy="233.00" r="1.4"/>
<circle cx="282.00" cy="236.00" r="1.4"/>
<circle cx="283.00" cy="238.00" r="1.4"/>
<circle cx="286.00" cy="241.00" r="1.4"/>
<circle cx="283.00" cy="248.00" r="1.4"/>
<circle cx="282.00" cy="253.00" r="1.4"/>
<circle cx="283.00" cy="264.00" r="1.4"/>
<circle cx="286.00" cy="266.00" r="1.4"/>
<circle cx="283.40" cy="273.00" r="1.4"/>
<circle cx="280.00" cy="273.40" r="1.4"/>
<circle cx="284.30" cy="213.45" r="1.4"/>
<circle cx="283.60" cy="215.40" r="1.4"/>
<circle cx="280.70" cy="217.00" r="1.4"/>
<circle cx="280.20" cy="219.00" r="1.4"/>
<circle cx="283.80" cy="221.50" r="1.4"/>
<circle cx="281.70" cy="223.50" r="1.4"/>
<circle cx="279.20" cy="225.00" r="1.4"/>
<circle cx="280.20" cy="227.00" r="1.4"/>
<circle cx="280.70" cy="229.00" r="1.4"/>
<circle cx="280.20" cy="231.50" r="1.4"/>
<circle cx="281.70" cy="234.50" r="1.4"/>
<circle cx="281.70" cy="237.00" r="1.4"/>
<circle cx="279.70" cy="239.50" r="1.4"/>
<text x="311.5" y="162.70" class="let">H</text>
<text x="330" y="162.60" class="tit">Numerical</text>
<text transform="translate(326.40,291.75) scale(0.88,1)" class="tick" text-anchor="end">0</text>
<text transform="translate(326.40,262.73) scale(0.88,1)" class="tick" text-anchor="end">5</text>
<text transform="translate(326.40,233.70) scale(0.88,1)" class="tick" text-anchor="end">10</text>
<text transform="translate(326.40,204.67) scale(0.88,1)" class="tick" text-anchor="end">15</text>
<text transform="translate(326.40,175.65) scale(0.88,1)" class="tick" text-anchor="end">20</text>
<text transform="translate(317.00,231.25) rotate(-90)" class="ylab" text-anchor="middle">WOC Raw Score</text>
<text transform="translate(351.00,302.60) scale(0.88,1)" class="tick" text-anchor="middle">Face-to-Face</text>
<text transform="translate(386.35,302.60) scale(0.88,1)" class="tick" text-anchor="middle">Online</text>
<line x1="351.00" x2="351.00" y1="190.60" y2="188.50" stroke="#000" stroke-width="0.85"/>
<line x1="351.00" x2="351.00" y1="208.00" y2="233.00" stroke="#000" stroke-width="0.85"/>
<rect x="337.50" y="190.60" width="27.0" height="17.40" fill="#f8c6c6" stroke="#3a1e1e" stroke-width="0.9"/>
<line x1="337.50" x2="364.50" y1="196.30" y2="196.30" stroke="#3a1e1e" stroke-width="1.5"/>
<line x1="386.35" x2="386.35" y1="190.60" y2="188.50" stroke="#000" stroke-width="0.85"/>
<line x1="386.35" x2="386.35" y1="214.00" y2="244.50" stroke="#000" stroke-width="0.85"/>
<rect x="372.85" y="190.60" width="27.0" height="23.40" fill="#c7daec" stroke="#1f2a33" stroke-width="0.9"/>
<line x1="372.85" x2="399.85" y1="194.00" y2="194.00" stroke="#1f2a33" stroke-width="1.5"/>
<circle cx="351.00" cy="237.40" r="1.4" fill="#b0b0b0"/>
<circle cx="351.40" cy="254.60" r="1.4" fill="#b0b0b0"/>
<circle cx="350.00" cy="188.50" r="1.4"/>
<circle cx="352.20" cy="188.80" r="1.4"/>
<circle cx="348.80" cy="189.10" r="1.4"/>
<circle cx="351.00" cy="190.00" r="1.4"/>
<circle cx="350.50" cy="190.50" r="1.4"/>
<circle cx="348.00" cy="191.70" r="1.4"/>
<circle cx="353.10" cy="191.70" r="1.4"/>
<circle cx="349.50" cy="192.50" r="1.4"/>
<circle cx="350.50" cy="193.40" r="1.4"/>
<circle cx="352.00" cy="194.50" r="1.4"/>
<circle cx="348.80" cy="196.00" r="1.4"/>
<circle cx="350.00" cy="196.50" r="1.4"/>
<circle cx="352.20" cy="196.80" r="1.4"/>
<circle cx="349.00" cy="198.00" r="1.4"/>
<circle cx="350.50" cy="198.00" r="1.4"/>
<circle cx="352.50" cy="198.50" r="1.4"/>
<circle cx="349.70" cy="199.40" r="1.4"/>
<circle cx="353.10" cy="200.20" r="1.4"/>
<circle cx="351.00" cy="201.00" r="1.4"/>
<circle cx="348.00" cy="202.00" r="1.4"/>
<circle cx="351.40" cy="203.70" r="1.4"/>
<circle cx="350.00" cy="205.00" r="1.4"/>
<circle cx="353.00" cy="205.00" r="1.4"/>
<circle cx="349.70" cy="206.20" r="1.4"/>
<circle cx="352.20" cy="207.90" r="1.4"/>
<circle cx="349.00" cy="208.00" r="1.4"/>
<circle cx="348.00" cy="209.60" r="1.4"/>
<circle cx="352.00" cy="210.00" r="1.4"/>
<circle cx="351.40" cy="211.40" r="1.4"/>
<circle cx="350.50" cy="213.00" r="1.4"/>
<circle cx="348.80" cy="214.80" r="1.4"/>
<circle cx="348.00" cy="217.30" r="1.4"/>
<circle cx="349.70" cy="220.80" r="1.4"/>
<circle cx="347.10" cy="224.20" r="1.4"/>
<circle cx="348.80" cy="226.70" r="1.4"/>
<circle cx="351.40" cy="229.30" r="1.4"/>
<circle cx="352.20" cy="231.00" r="1.4"/>
<circle cx="353.10" cy="233.60" r="1.4"/>
<circle cx="354.00" cy="237.00" r="1.4"/>
<circle cx="350.60" cy="248.00" r="1.4"/>
<circle cx="349.00" cy="256.00" r="1.4"/>
<circle cx="352.00" cy="266.00" r="1.4"/>
<circle cx="351.00" cy="268.00" r="1.4"/>
<circle cx="385.60" cy="189.10" r="1.4"/>
<circle cx="389.00" cy="190.00" r="1.4"/>
<circle cx="387.30" cy="193.40" r="1.4"/>
<circle cx="384.70" cy="196.00" r="1.4"/>
<circle cx="387.30" cy="198.50" r="1.4"/>
<circle cx="388.10" cy="201.10" r="1.4"/>
<circle cx="385.60" cy="205.40" r="1.4"/>
<circle cx="387.30" cy="207.90" r="1.4"/>
<circle cx="384.70" cy="211.40" r="1.4"/>
<circle cx="386.40" cy="213.90" r="1.4"/>
<circle cx="387.30" cy="217.30" r="1.4"/>
<circle cx="388.10" cy="220.80" r="1.4"/>
<circle cx="386.40" cy="225.00" r="1.4"/>
<circle cx="389.00" cy="229.30" r="1.4"/>
<circle cx="389.80" cy="231.00" r="1.4"/>
<circle cx="390.00" cy="234.00" r="1.4"/>
<circle cx="385.40" cy="244.60" r="1.4"/>
<circle cx="384.60" cy="189.55" r="1.4"/>
</g>
</svg></body></html>
